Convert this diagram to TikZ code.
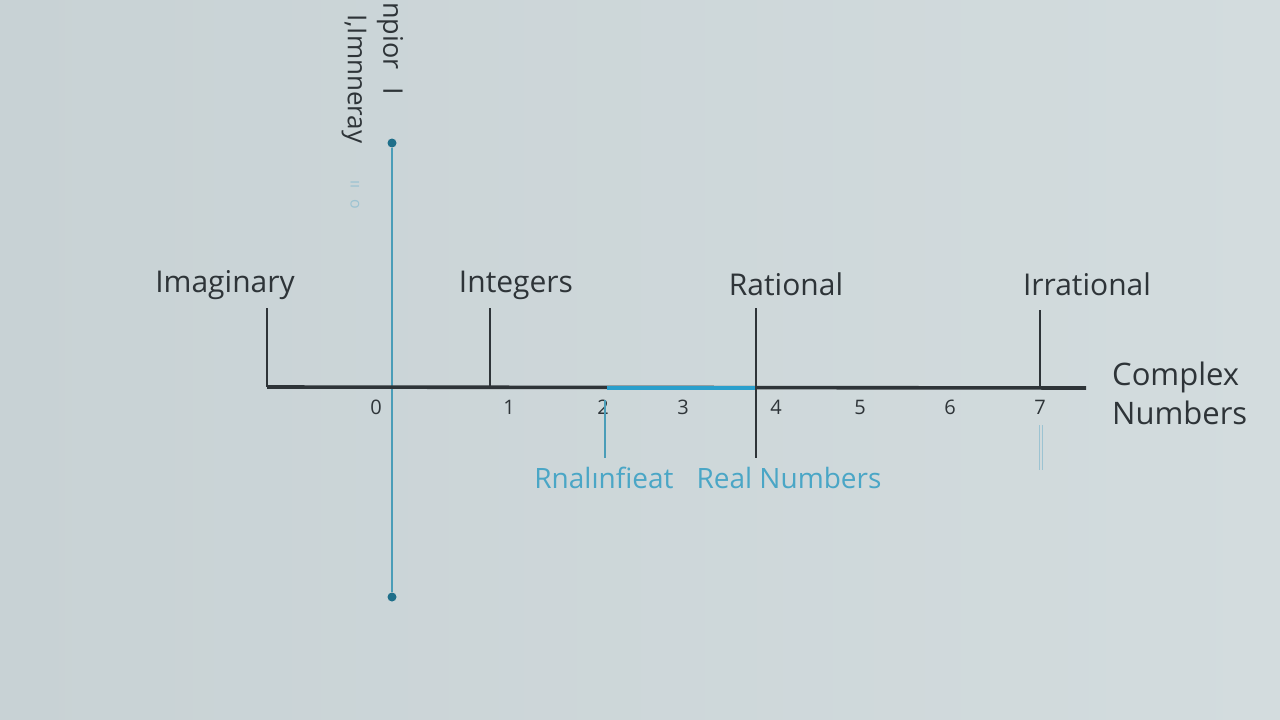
\documentclass[tikz,border=0pt]{standalone}
\usepackage{fontspec}
\setmainfont{Open Sans}
\definecolor{bgL}{HTML}{C8D2D5}
\definecolor{bgR}{HTML}{D3DCDE}
\definecolor{ink}{HTML}{2E3438}
\definecolor{axisblue}{HTML}{2A9FCC}
\definecolor{vline}{HTML}{4A9DB8}
\definecolor{dotc}{HTML}{1F6F8A}
\definecolor{bluetext}{HTML}{4AA6C6}
\definecolor{faint}{HTML}{9CC3D2}
\begin{document}
\begin{tikzpicture}[x=1pt,y=-1pt,
  lbl/.style={text=ink,font=\fontsize{30}{34}\selectfont,inner sep=0pt},
  num/.style={text=ink,font=\fontsize{20}{24}\selectfont,inner sep=0pt},
  bluelbl/.style={text=bluetext,font=\fontsize{28}{32}\selectfont,inner sep=0pt},
  tickline/.style={draw=ink,line width=1.4pt},
  axisline/.style={draw=ink,line width=3.6pt},
  dotnode/.style={circle,fill=dotc,inner sep=0pt,minimum size=9pt}]
\useasboundingbox (0,0) rectangle (1280,720);
\shade[left color=bgL,right color=bgR] (0,0) rectangle (1280,720);

% axis coordinates
\coordinate (axL) at (267,387);
\coordinate (axR) at (1086,388);
\coordinate (bS) at (607,388);
\coordinate (bE) at (755,388);

% vertical imaginary axis
\node[dotnode] (vtop) at (392,143) {};
\node[dotnode] (vbot) at (392,597) {};
\draw[draw=vline,line width=1.8pt] (vtop) -- (vbot);

% horizontal axis
\draw[axisline] (axL) -- (axR);
\draw[draw=axisblue,line width=3.6pt] (bS) -- (bE);

% labels above
\node[lbl] (imag) at (225,285) {Imaginary};
\node[lbl] (integ) at (516,285) {Integers};
\node[lbl] (ratio) at (786,284) {Rational};
\node[lbl] (irrat) at (1087,284) {Irrational};
\node[lbl,align=left,anchor=west,font=\fontsize{31}{39}\selectfont] (cplx) at (1112,393) {Complex\\Numbers};

% ticks
\coordinate (t1a) at (267,308); \coordinate (t1b) at (267,387);
\coordinate (t2a) at (490,308); \coordinate (t2b) at (490,387);
\coordinate (t3a) at (756,308); \coordinate (t3b) at (756,458);
\coordinate (t4a) at (1040,310); \coordinate (t4b) at (1040,387);
\draw[tickline] (t1a) -- (t1b);
\draw[tickline] (t2a) -- (t2b);
\draw[tickline] (t3a) -- (t3b);
\draw[tickline] (t4a) -- (t4b);

% numbers
\node[num] (n0) at (376,407) {0};
\node[num] (n1) at (509,407) {1};
\node[num] (n2) at (603,407) {2};
\node[num] (n3) at (683,407) {3};
\node[num] (n4) at (776,407) {4};
\node[num] (n5) at (860,407) {5};
\node[num] (n6) at (950,407) {6};
\node[num] (n7) at (1040,407) {7};

% blue tick and labels below
\coordinate (bt1) at (605,400); \coordinate (bt2) at (605,458);
\draw[draw=vline,line width=1.6pt] (bt1) -- (bt2);
\node[bluelbl] (rnal) at (604,478) {Rnalınfieat};
\node[bluelbl] (realn) at (789,478) {Real Numbers};

% faint mark under 7
\coordinate (f1) at (1039,425); \coordinate (f2) at (1039,470);
\coordinate (f3) at (1042,425); \coordinate (f4) at (1042,470);
\draw[draw=faint,line width=1pt] (f1) -- (f2);
\draw[draw=faint,line width=1pt] (f3) -- (f4);

% rotated texts at the top
\node[lbl,rotate=-90,anchor=west,font=\fontsize{26}{30}\selectfont] (rot1) at (354,14) {I,Imnneray};
\node[lbl,rotate=-90,anchor=west,font=\fontsize{27}{30}\selectfont] (rot2) at (390,2) {npior\hspace{18pt}I};
\node[rotate=-90,text=faint,font=\fontsize{16}{20}\selectfont,inner sep=0pt] (rot3) at (355,195) {ıı \, o};
\end{tikzpicture}
\end{document}
